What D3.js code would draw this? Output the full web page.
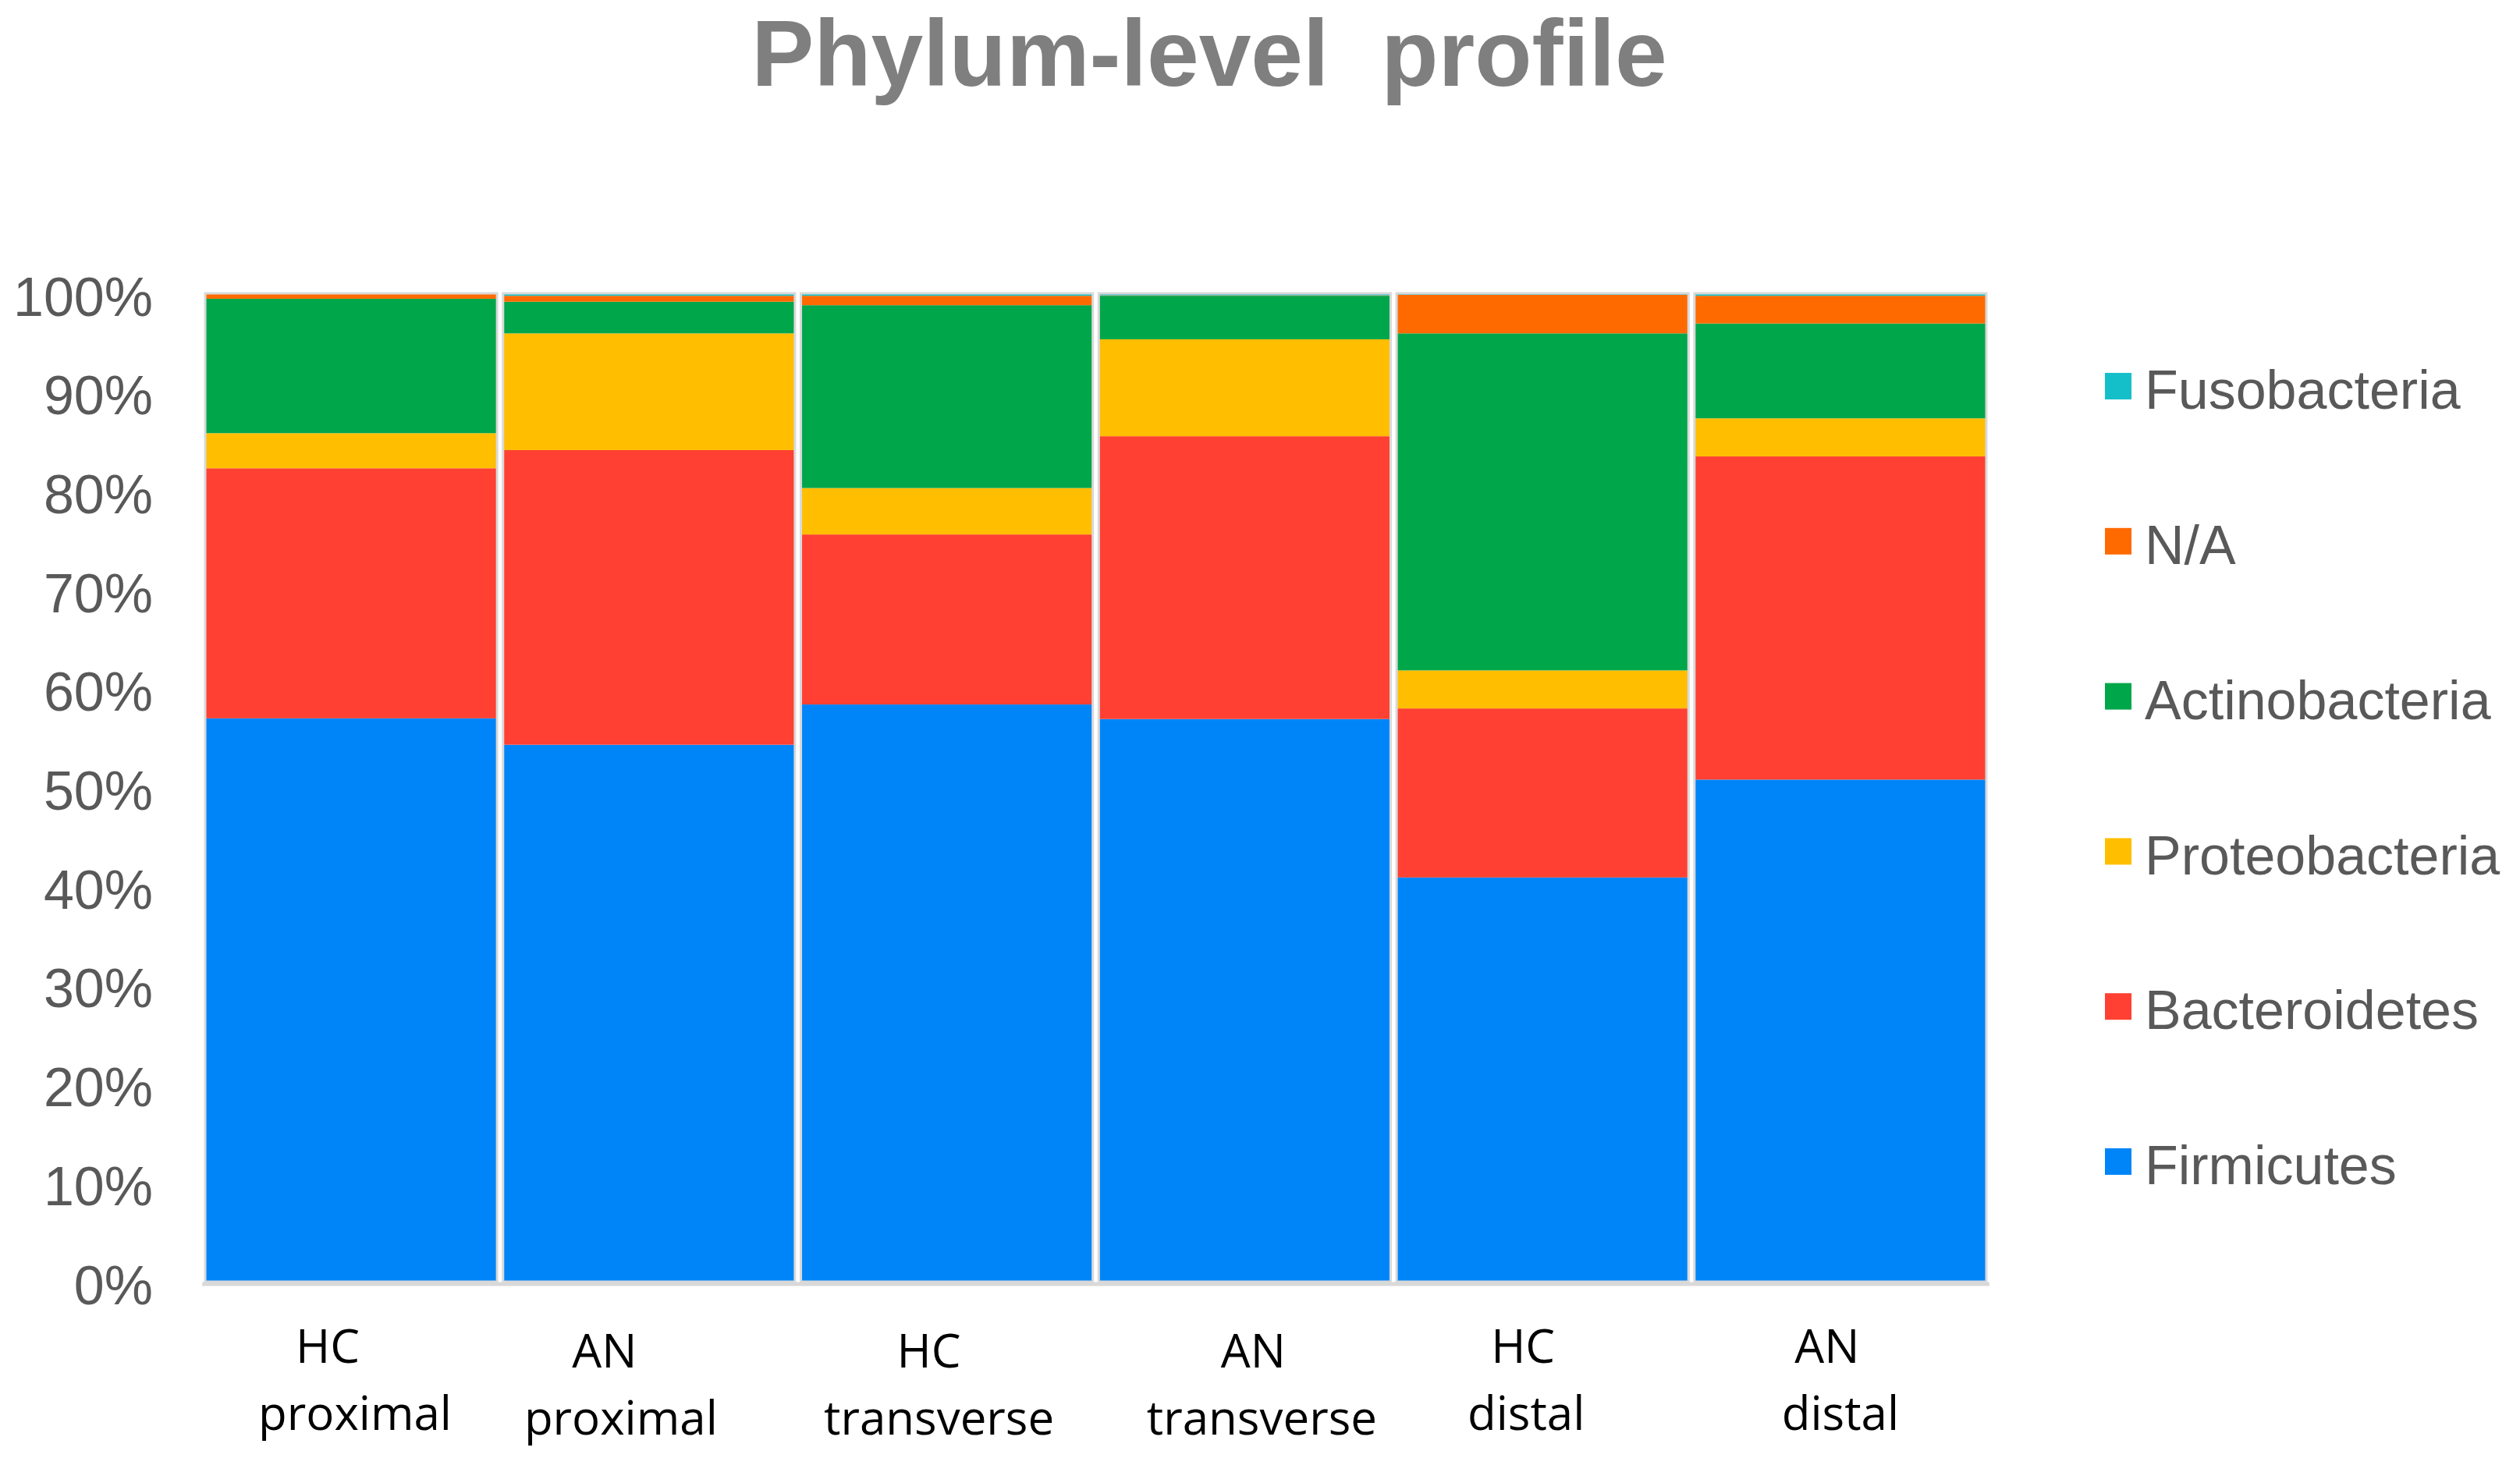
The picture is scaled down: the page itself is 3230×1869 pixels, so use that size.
<!DOCTYPE html>
<html>
<head>
<meta charset="utf-8">
<script src="https://cdn.jsdelivr.net/npm/d3@7"></script>
<style>
  html, body { margin: 0; padding: 0; background: #ffffff; }
  svg { display: block; }
</style>
</head>
<body>
<svg id="chart" width="3230" height="1869"></svg>
<script>
// ---------- data ----------
const categories = ["HC proximal", "AN proximal", "HC transverse", "AN transverse", "HC distal", "AN distal"];
const labelLines = [["HC", "proximal"], ["AN", "proximal"], ["HC", "transverse"], ["AN", "transverse"], ["HC", "distal"], ["AN", "distal"]];
const seriesNames = ["Firmicutes", "Bacteroidetes", "Proteobacteria", "Actinobacteria", "N/A", "Fusobacteria"];
const firmicutes     = [57.0, 54.3, 58.4, 56.9, 40.9, 50.8];
const bacteroidetes  = [25.3, 29.8, 17.2, 28.6, 17.1, 32.7];
const proteobacteria = [3.55, 11.8, 4.7, 9.8, 3.85, 3.85];
const actinobacteria = [13.6, 3.2, 18.5, 4.4, 34.1, 9.6];
const na             = [0.5, 0.6, 0.95, 0.05, 3.9, 2.8];
const fusobacteria   = [0.05, 0.25, 0.25, 0.2, 0.15, 0.25];
const yTicks = [0, 0.1, 0.2, 0.3, 0.4, 0.5, 0.6, 0.7, 0.8, 0.9, 1.0];
const legendOrder = ["Fusobacteria", "N/A", "Actinobacteria", "Proteobacteria", "Bacteroidetes", "Firmicutes"];

// ---------- styles / layout ----------
const colors = {
  "Firmicutes": "#0085F8",
  "Bacteroidetes": "#FF4032",
  "Proteobacteria": "#FFBE00",
  "Actinobacteria": "#00A64A",
  "N/A": "#FF6A00",
  "Fusobacteria": "#15BFCA"
};
// manual nudges of the category labels (line 1, line 2) and row drop
const labelNudge = [
  { d1: -30, d2: 5,   dy: 0 },
  { d1: -57, d2: -36, dy: 6 },
  { d1: -23, d2: -10, dy: 6 },
  { d1: 11,  d2: 22,  dy: 6 },
  { d1: -25, d2: -21, dy: 0 },
  { d1: -17, d2: 0,   dy: 0 }
];

const svg = d3.select("#chart");

const rows = categories.map((c, i) => ({
  category: c,
  "Firmicutes": firmicutes[i],
  "Bacteroidetes": bacteroidetes[i],
  "Proteobacteria": proteobacteria[i],
  "Actinobacteria": actinobacteria[i],
  "N/A": na[i],
  "Fusobacteria": fusobacteria[i]
}));

const stacked = d3.stack().keys(seriesNames).offset(d3.stackOffsetExpand)(rows);

const x = d3.scaleBand()
  .domain(categories)
  .range([259.2, 2549.8])
  .paddingInner(0.02)
  .paddingOuter(0.01);

const y = d3.scaleLinear().domain([0, 1]).range([1643, 376]);

// bar segments
const layers = svg.append("g").selectAll("g")
  .data(stacked)
  .join("g")
  .attr("fill", d => colors[d.key]);

layers.selectAll("rect")
  .data(d => d)
  .join("rect")
  .attr("x", d => x(d.data.category))
  .attr("width", x.bandwidth())
  .attr("y", d => y(d[1]))
  .attr("height", d => Math.max(0, y(d[0]) - y(d[1])));

// light column outlines
svg.append("g").selectAll("rect")
  .data(categories)
  .join("rect")
  .attr("x", d => x(d))
  .attr("width", x.bandwidth())
  .attr("y", y(1))
  .attr("height", y(0) - y(1))
  .attr("fill", "none")
  .attr("stroke", "#d9d9d9")
  .attr("stroke-width", 3);

// x axis baseline
svg.append("line")
  .attr("x1", x.range()[0])
  .attr("x2", x.range()[1])
  .attr("y1", y(0) + 3)
  .attr("y2", y(0) + 3)
  .attr("stroke", "#d9d9d9")
  .attr("stroke-width", 5);

// y axis
const yAxis = svg.append("g")
  .attr("transform", `translate(${x.range()[0] + 3.8},0)`)
  .call(d3.axisLeft(y).tickValues(yTicks).tickFormat(d3.format(".0%")).tickSize(0).tickPadding(67));
yAxis.select(".domain").remove();
yAxis.selectAll("text")
  .attr("font-family", "'Liberation Sans', Arial, Helvetica, sans-serif")
  .attr("font-size", 70)
  .attr("fill", "#595959")
  .attr("dy", "0.40em");

// x category labels
const xl = svg.append("g").selectAll("text")
  .data(categories)
  .join("text")
  .attr("font-family", "'Open Sans', 'Noto Sans', sans-serif")
  .attr("font-size", 60)
  .attr("fill", "#000000")
  .attr("text-anchor", "middle");
xl.each(function(d, i) {
  const cx = x(d) + x.bandwidth() / 2;
  const t = d3.select(this);
  t.append("tspan").attr("x", cx + labelNudge[i].d1).attr("y", 1747 + labelNudge[i].dy).text(labelLines[i][0]);
  t.append("tspan").attr("x", cx + labelNudge[i].d2).attr("y", 1833 + labelNudge[i].dy).text(labelLines[i][1]);
});

// title
svg.append("text")
  .attr("x", 1550)
  .attr("y", 110)
  .attr("text-anchor", "middle")
  .attr("font-family", "'Liberation Sans', Arial, Helvetica, sans-serif")
  .attr("font-weight", "bold")
  .attr("font-size", 120)
  .attr("fill", "#7f7f7f")
  .attr("xml:space", "preserve")
  .style("white-space", "pre")
  .text("Phylum-level  profile");

// legend
const ly = d3.scalePoint().domain(legendOrder).range([499, 1493]);
const lg = svg.append("g").selectAll("g")
  .data(legendOrder)
  .join("g")
  .attr("transform", d => `translate(2698,${ly(d)})`);
lg.append("rect")
  .attr("x", 0)
  .attr("y", -21)
  .attr("width", 34)
  .attr("height", 34)
  .attr("fill", d => colors[d]);
lg.append("text")
  .attr("x", 51)
  .attr("y", 0)
  .attr("dy", "0.36em")
  .attr("font-family", "'Liberation Sans', Arial, Helvetica, sans-serif")
  .attr("font-size", 70)
  .attr("fill", "#595959")
  .text(d => d);
</script>
</body>
</html>
